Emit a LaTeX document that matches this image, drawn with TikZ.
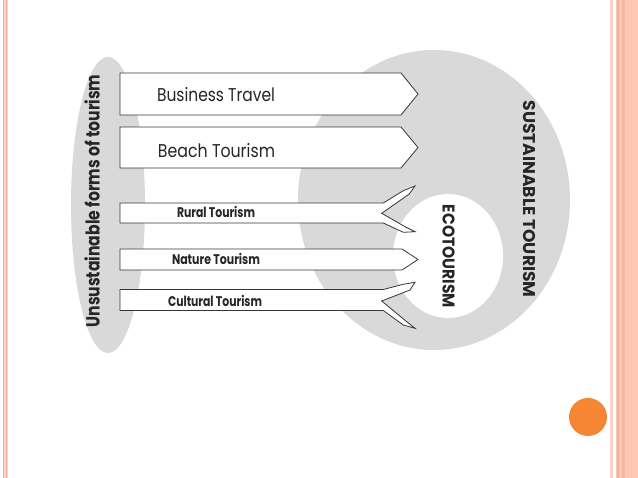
\documentclass[tikz,border=0pt]{standalone}
\usepackage{fontspec}
\usepackage{graphicx}
\setmainfont{Poppins}
\definecolor{ecogray}{RGB}{217,217,217}
\definecolor{boxline}{RGB}{55,55,55}
\definecolor{pinkA}{RGB}{250,212,200}
\definecolor{pinkB}{RGB}{240,178,158}
\definecolor{salmon}{RGB}{252,200,178}
\definecolor{dotorange}{RGB}{246,134,52}
\newcommand{\fitw}[2]{\resizebox{#1}{\height}{#2}}
\tikzset{
  blob/.style={fill=ecogray, draw=none},
  hole/.style={fill=white, draw=none},
  arrowbox/.style={fill=white, draw=boxline, line width=0.8pt, line join=miter},
  lbl/.style={inner sep=0pt, anchor=base, text=black!85},
}
\begin{document}
\begin{tikzpicture}[x=1pt,y=-1pt]
\useasboundingbox (0,0) rectangle (638,478);
\fill[white] (0,0) rectangle (638,478);
% side borders
\fill[pinkA] (2.5,0) rectangle (7.5,478);
\draw[pinkB, line width=0.6pt] (3.2,0) -- (3.2,478);
\draw[pinkB, line width=0.6pt] (6.6,0) -- (6.6,478);
\fill[pinkA] (610,0) rectangle (612.5,478);
\fill[salmon] (616,0) rectangle (638,478);
\fill[pinkB] (617,0) rectangle (619,478);
\fill[pinkB!80!salmon] (621.5,0) rectangle (624.5,478);
% gray regions
\fill[blob] (108,205) ellipse [x radius=37, y radius=148];
\fill[blob] (434,200) ellipse [x radius=136, y radius=150];
\fill[hole] (448,256) ellipse [x radius=55, y radius=62];
% arrows
\draw[arrowbox] (120,73) -- (401,73) -- (418,94) -- (401,115) -- (120,115) -- cycle;
\draw[arrowbox] (120,127) -- (401,127) -- (418,147.5) -- (401,168) -- (120,168) -- cycle;
\draw[arrowbox] (120,203) -- (383.3,203) -- (403.3,190.7) -- (415,186) -- (409.3,194)
   -- (381.7,213.3) -- (405,226.7) -- (415,231.7) -- (403.3,232.3) -- (383.3,223) -- (120,223) -- cycle;
\draw[arrowbox] (120,249) -- (402,249) -- (418,259.5) -- (402,270) -- (120,270) -- cycle;
\draw[arrowbox] (120,289.5) -- (383.3,289.5) -- (403.3,284.3) -- (415,282.3) -- (410,290)
   -- (381.7,301) -- (406.7,321.7) -- (415,328.3) -- (403.3,325) -- (383.3,310.5) -- (120,310.5) -- cycle;
% labels
\node[lbl] (bt) at (216,102) {\fitw{118pt}{\fontsize{18.5}{20}\selectfont Business Travel}};
\node[lbl] (be) at (216.5,158) {\fitw{117pt}{\fontsize{18.5}{20}\selectfont Beach Tourism}};
\node[lbl] (ru) at (216,218) {\fitw{78pt}{\fontsize{14}{16}\selectfont\bfseries Rural Tourism}};
\node[lbl] (na) at (216,265) {\fitw{88pt}{\fontsize{14}{16}\selectfont\bfseries Nature Tourism}};
\node[lbl] (cu) at (215,307) {\fitw{94pt}{\fontsize{14}{16}\selectfont\bfseries Cultural Tourism}};
\node[lbl, anchor=center, rotate=90] (un) at (92,201) {\fitw{253pt}{\fontsize{19}{21}\selectfont\bfseries Unsustainable forms of tourism}};
\node[lbl, anchor=center, rotate=-90] (eco) at (448.5,256.5) {\fitw{103pt}{\fontsize{17}{19}\selectfont\bfseries ECOTOURISM}};
\node[lbl, anchor=center, rotate=-90] (sus) at (529,199) {\fitw{197pt}{\fontsize{17}{19}\selectfont\bfseries SUSTAINABLE TOURISM}};
% orange dot
\fill[dotorange] (588,417) circle [radius=19];
\end{tikzpicture}
\end{document}
